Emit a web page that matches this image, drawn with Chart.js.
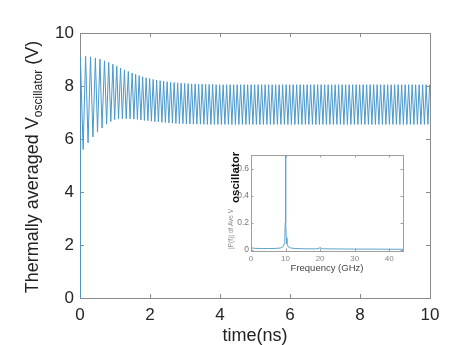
<!DOCTYPE html>
<html>
<head>
<meta charset="utf-8">
<script src="https://cdn.jsdelivr.net/npm/chart.js@4.4.1/dist/chart.umd.min.js"></script>
<style>
  html, body { margin:0; padding:0; background:#fff; }
  #wrap { position:relative; width:474px; height:345px; }
  #main { position:absolute; left:0; top:0; }
  #inset { position:absolute; left:215px; top:145px; }
</style>
</head>
<body>
<div id="wrap">
  <canvas id="main" width="474" height="345"></canvas>
  <canvas id="inset" width="195" height="140"></canvas>
</div>
<script>
const startPoint = { t: 0, v: 0 };
const peakTimes = [
  0.01, 0.16, 0.30, 0.44, 0.57, 0.70, 0.82, 0.94, 1.05, 1.16,
  1.27, 1.38, 1.49, 1.59, 1.69, 1.79, 1.89, 1.99, 2.09, 2.19,
  2.29, 2.39, 2.49, 2.59, 2.69, 2.79, 2.89, 2.99, 3.09, 3.19,
  3.29, 3.39, 3.49, 3.59, 3.69, 3.79, 3.89, 3.99, 4.09, 4.19,
  4.29, 4.39, 4.49, 4.59, 4.69, 4.79, 4.89, 4.99, 5.09, 5.19,
  5.29, 5.39, 5.49, 5.59, 5.69, 5.79, 5.89, 5.99, 6.09, 6.19,
  6.29, 6.39, 6.49, 6.59, 6.69, 6.79, 6.89, 6.99, 7.09, 7.19,
  7.29, 7.39, 7.49, 7.59, 7.69, 7.79, 7.89, 7.99, 8.09, 8.19,
  8.29, 8.39, 8.49, 8.59, 8.69, 8.79, 8.89, 8.99, 9.09, 9.19,
  9.29, 9.39, 9.49, 9.59, 9.69, 9.79, 9.89, 9.99
];
const peakVolts = [
  9.10, 9.12, 9.10, 9.06, 9.01, 8.95, 8.89, 8.82, 8.75, 8.68,
  8.61, 8.55, 8.49, 8.44, 8.39, 8.35, 8.31, 8.28, 8.25, 8.22,
  8.20, 8.18, 8.16, 8.14, 8.13, 8.12, 8.11, 8.10, 8.09, 8.08,
  8.08, 8.07, 8.07, 8.06, 8.06, 8.06, 8.05, 8.05, 8.05, 8.05,
  8.05, 8.05, 8.05, 8.05, 8.05, 8.05, 8.05, 8.05, 8.05, 8.05,
  8.05, 8.05, 8.05, 8.05, 8.05, 8.05, 8.05, 8.05, 8.05, 8.05,
  8.05, 8.05, 8.05, 8.05, 8.05, 8.05, 8.05, 8.05, 8.05, 8.05,
  8.05, 8.05, 8.05, 8.05, 8.05, 8.05, 8.05, 8.05, 8.05, 8.05,
  8.05, 8.05, 8.05, 8.05, 8.05, 8.05, 8.05, 8.05, 8.05, 8.05,
  8.05, 8.05, 8.05, 8.05, 8.05, 8.05, 8.05, 8.05
];
const troughTimes = [
  0.09, 0.23, 0.37, 0.50, 0.63, 0.76, 0.88, 0.99, 1.10, 1.21,
  1.32, 1.43, 1.54, 1.64, 1.74, 1.84, 1.94, 2.04, 2.14, 2.24,
  2.34, 2.44, 2.54, 2.64, 2.74, 2.84, 2.94, 3.04, 3.14, 3.24,
  3.34, 3.44, 3.54, 3.64, 3.74, 3.84, 3.94, 4.04, 4.14, 4.24,
  4.34, 4.44, 4.54, 4.64, 4.74, 4.84, 4.94, 5.04, 5.14, 5.24,
  5.34, 5.44, 5.54, 5.64, 5.74, 5.84, 5.94, 6.04, 6.14, 6.24,
  6.34, 6.44, 6.54, 6.64, 6.74, 6.84, 6.94, 7.04, 7.14, 7.24,
  7.34, 7.44, 7.54, 7.64, 7.74, 7.84, 7.94, 8.04, 8.14, 8.24,
  8.34, 8.44, 8.54, 8.64, 8.74, 8.84, 8.94, 9.04, 9.14, 9.24,
  9.34, 9.44, 9.54, 9.64, 9.74, 9.84, 9.94
];
const troughVolts = [
  5.60, 5.86, 6.08, 6.26, 6.42, 6.56, 6.66, 6.73, 6.76, 6.77,
  6.77, 6.76, 6.75, 6.74, 6.72, 6.70, 6.69, 6.67, 6.66, 6.64,
  6.63, 6.62, 6.61, 6.60, 6.59, 6.58, 6.58, 6.57, 6.57, 6.56,
  6.56, 6.56, 6.56, 6.55, 6.55, 6.55, 6.55, 6.55, 6.55, 6.55,
  6.55, 6.55, 6.55, 6.55, 6.55, 6.55, 6.55, 6.55, 6.55, 6.55,
  6.55, 6.55, 6.55, 6.55, 6.55, 6.55, 6.55, 6.55, 6.55, 6.55,
  6.55, 6.55, 6.55, 6.55, 6.55, 6.55, 6.55, 6.55, 6.55, 6.55,
  6.55, 6.55, 6.55, 6.55, 6.55, 6.55, 6.55, 6.55, 6.55, 6.55,
  6.55, 6.55, 6.55, 6.55, 6.55, 6.55, 6.55, 6.55, 6.55, 6.55,
  6.55, 6.55, 6.55, 6.55, 6.55, 6.55, 6.55
];
const mainXTicks = [0, 2, 4, 6, 8, 10];
const mainYTicks = [0, 2, 4, 6, 8, 10];

// inset spectrum |P(f)| (GHz)
const fftFreqs = [0, 1, 3, 5, 7, 8.5, 9.2, 9.6, 9.8, 9.9, 10.0, 10.1, 10.2, 10.4, 10.8,
  11.5, 13, 16, 19, 19.7, 20, 20.3, 21, 25, 30, 35, 40, 44];
const fftMags = [0.015, 0.012, 0.010, 0.010, 0.011, 0.014, 0.022, 0.045, 0.09, 0.20, 0.70, 0.20, 0.09, 0.045, 0.022,
  0.014, 0.010, 0.008, 0.008, 0.012, 0.018, 0.012, 0.008, 0.007, 0.006, 0.006, 0.005, 0.005];
const insetXTicks = [0, 10, 20, 30, 40];
const insetYTicks = [0, 0.2, 0.4, 0.6];
const insetYLabels = ['0', '0.2', '0.4', '0.6'];

const FONT = '"Liberation Sans", Arial, sans-serif';

// build the trace: start, then crest / trough alternately
const tracePoints = [{ x: startPoint.t, y: startPoint.v }];
for (let i = 0; i < peakTimes.length; i++) {
  tracePoints.push({ x: peakTimes[i], y: peakVolts[i] });
  if (i < troughTimes.length) tracePoints.push({ x: troughTimes[i], y: troughVolts[i] });
}

// matlab style box with inward ticks
const axesBox = {
  id: 'axesBox',
  beforeDatasetsDraw(chart, args, opts) {
    const { ctx, chartArea: a, scales: { x, y } } = chart;
    ctx.save();
    ctx.strokeStyle = opts.color;
    ctx.lineWidth = 1;
    ctx.strokeRect(Math.round(a.left) + 0.5, Math.round(a.top) + 0.5,
      Math.round(a.right) - Math.round(a.left), Math.round(a.bottom) - Math.round(a.top));
    ctx.beginPath();
    x.ticks.forEach(t => {
      const px = Math.round(x.getPixelForValue(t.value)) + 0.5;
      ctx.moveTo(px, a.bottom); ctx.lineTo(px, a.bottom - opts.len);
      ctx.moveTo(px, a.top); ctx.lineTo(px, a.top + opts.len);
    });
    y.ticks.forEach(t => {
      const py = Math.round(y.getPixelForValue(t.value)) + 0.5;
      ctx.moveTo(a.left, py); ctx.lineTo(a.left + opts.len, py);
      ctx.moveTo(a.right, py); ctx.lineTo(a.right - opts.len, py);
    });
    ctx.stroke();
    ctx.restore();
  }
};

const mainTitles = {
  id: 'mainTitles',
  afterDraw(chart) {
    const { ctx, chartArea: a } = chart;
    ctx.save();
    ctx.fillStyle = '#222';
    ctx.font = '18px ' + FONT;
    ctx.textAlign = 'center';
    ctx.textBaseline = 'middle';
    ctx.fillText('time(ns)', (a.left + a.right) / 2, 336);

    const big = '18px ' + FONT, small = '12px ' + FONT;
    ctx.font = big;
    const w1 = ctx.measureText('Thermally averaged V').width;
    const w3 = ctx.measureText(' (V)').width;
    ctx.font = small;
    const w2 = ctx.measureText('oscillator').width;
    ctx.translate(38, 167);
    ctx.rotate(-Math.PI / 2);
    ctx.textAlign = 'left';
    ctx.textBaseline = 'alphabetic';
    const x0 = -(w1 + w2 + w3) / 2;
    ctx.font = big; ctx.fillText('Thermally averaged V', x0, 0);
    ctx.font = small; ctx.fillText('oscillator', x0 + w1, 4);
    ctx.font = big; ctx.fillText(' (V)', x0 + w1 + w2, 0);
    ctx.restore();
  }
};

const insetTitles = {
  id: 'insetTitles',
  afterDraw(chart) {
    const { ctx, chartArea: a, scales: { y } } = chart;
    ctx.save();
    // y tick labels
    ctx.fillStyle = '#777';
    ctx.font = '8.5px ' + FONT;
    ctx.textAlign = 'right';
    ctx.textBaseline = 'middle';
    insetYTicks.forEach((v, i) => ctx.fillText(insetYLabels[i], a.left - 2, y.getPixelForValue(v)));

    ctx.fillStyle = '#444';
    ctx.font = '9.5px ' + FONT;
    ctx.textAlign = 'center';
    ctx.fillText('Frequency (GHz)', (a.left + a.right) / 2, 123);

    ctx.textAlign = 'left';
    ctx.textBaseline = 'alphabetic';
    ctx.save();
    ctx.translate(17.5, 104);
    ctx.rotate(-Math.PI / 2);
    ctx.fillStyle = '#8a8a8a';
    ctx.font = '6.5px ' + FONT;
    ctx.fillText('|P(f)| of Ave V', 0, 0);
    ctx.restore();
    ctx.translate(24, 58);
    ctx.rotate(-Math.PI / 2);
    ctx.fillStyle = '#111';
    ctx.font = 'bold 11.5px ' + FONT;
    ctx.fillText('oscillator', 0, 0);
    ctx.restore();
  }
};

new Chart(document.getElementById('main'), {
  type: 'line',
  data: {
    datasets: [{
      data: tracePoints,
      borderColor: '#4a98cc',
      borderWidth: 1,
      pointRadius: 0,
      tension: 0,
      fill: false
    }]
  },
  options: {
    responsive: false,
    animation: false,
    layout: { padding: { top: 33, right: 44, left: 0, bottom: 0 } },
    plugins: {
      legend: { display: false },
      tooltip: { enabled: false },
      axesBox: { color: '#8a8a8a', len: 4 }
    },
    scales: {
      x: {
        type: 'linear', min: 0, max: 10,
        afterBuildTicks: s => { s.ticks = mainXTicks.map(v => ({ value: v })); },
        afterFit: s => { s.height = 47; },
        grid: { display: false, drawTicks: false, tickLength: 0 }, border: { display: false },
        ticks: { color: '#262626', font: { family: FONT, size: 17 }, padding: 7, maxRotation: 0, autoSkip: false }
      },
      y: {
        type: 'linear', min: 0, max: 10,
        afterBuildTicks: s => { s.ticks = mainYTicks.map(v => ({ value: v })); },
        afterFit: s => { s.width = 80; },
        grid: { display: false, drawTicks: false, tickLength: 0 }, border: { display: false },
        ticks: { color: '#262626', font: { family: FONT, size: 17 }, padding: 6, autoSkip: false }
      }
    }
  },
  plugins: [axesBox, mainTitles]
});

new Chart(document.getElementById('inset'), {
  type: 'line',
  data: {
    datasets: [{
      data: fftFreqs.map((f, i) => ({ x: f, y: fftMags[i] })),
      borderColor: '#5aa3cc',
      borderWidth: 1,
      pointRadius: 0,
      tension: 0,
      fill: false
    }]
  },
  options: {
    responsive: false,
    animation: false,
    layout: { padding: { top: 10, right: 7, left: 0, bottom: 0 } },
    plugins: {
      legend: { display: false },
      tooltip: { enabled: false },
      axesBox: { color: '#a0a0a0', len: 2.5 }
    },
    scales: {
      x: {
        type: 'linear', min: 0, max: 44,
        afterBuildTicks: s => { s.ticks = insetXTicks.map(v => ({ value: v })); },
        afterFit: s => { s.height = 34; },
        grid: { display: false, drawTicks: false, tickLength: 0 }, border: { display: false },
        ticks: { color: '#888', font: { family: FONT, size: 8 }, padding: 3, maxRotation: 0, autoSkip: false }
      },
      y: {
        type: 'linear', min: -0.008, max: 0.7,
        afterBuildTicks: s => { s.ticks = insetYTicks.map(v => ({ value: v })); },
        afterFit: s => { s.width = 36; },
        grid: { display: false, drawTicks: false, tickLength: 0 }, border: { display: false },
        ticks: { display: false }
      }
    }
  },
  plugins: [axesBox, insetTitles]
});
</script>
</body>
</html>
